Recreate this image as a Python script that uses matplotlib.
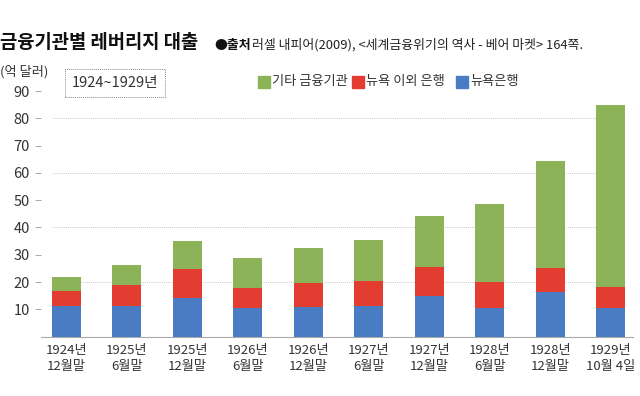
import matplotlib
matplotlib.use('Agg')
import matplotlib.pyplot as plt
import numpy as np

plt.rcParams['font.family'] = ['Noto Sans CJK KR', 'DejaVu Sans']

# data (unit: 억 달러)
periods = ['1924년\n12월말', '1925년\n6월말', '1925년\n12월말', '1926년\n6월말', '1926년\n12월말',
           '1927년\n6월말', '1927년\n12월말', '1928년\n6월말', '1928년\n12월말', '1929년\n10월 4일']
ny_banks    = [11.2, 11.2, 14.3, 10.4, 11.0, 11.2, 15.0, 10.6, 16.3, 10.5]
other_banks = [5.5, 7.7, 10.4, 7.5, 8.5, 9.2, 10.6, 9.5, 9.0, 7.7]
other_inst  = [5.3, 7.2, 10.2, 11.0, 13.0, 15.0, 18.6, 28.5, 38.9, 66.7]
y_ticks = [10, 20, 30, 40, 50, 60, 70, 80, 90]

GREEN = '#8cb357'
RED = '#e23d30'
BLUE = '#4a7cc3'

fig = plt.figure(figsize=(6.4, 3.96), dpi=100)
ax = fig.add_axes([0.064, 0.150, 0.925, 0.620])

x = np.arange(len(periods))
w = 0.48
ax.bar(x, ny_banks, w, color=BLUE, zorder=3)
ax.bar(x, other_banks, w, bottom=ny_banks, color=RED, zorder=3)
bottom2 = np.array(ny_banks) + np.array(other_banks)
ax.bar(x, other_inst, w, bottom=bottom2, color=GREEN, zorder=3)

ax.set_xlim(-0.42, 9.37)
ax.set_ylim(0, 90)
ax.set_yticks(y_ticks)
ax.tick_params(axis='y', length=4, width=0.7, color='#aaaaaa', pad=4,
               labelsize=10.5, labelcolor='#333333')
ax.set_xticks(x)
ax.set_xticklabels(periods, fontsize=9.5, color='#333333', linespacing=1.3)
ax.tick_params(axis='x', length=0, pad=5)

for v in [20, 40, 60, 80]:
    ax.axhline(v, xmin=0.02, xmax=0.96, color='#b5b5b5', lw=0.6, ls=(0, (1, 1.5)), zorder=1)

for s in ['left', 'right', 'top']:
    ax.spines[s].set_visible(False)
ax.spines['bottom'].set_color('#aaaaaa')
ax.spines['bottom'].set_linewidth(0.8)

# title and source
fig.text(0.0, 1 - 43 / 396, '금융기관별 레버리지 대출', fontsize=13.5, fontweight='bold',
         va='center', ha='left', color='#111111')
fig.text(214 / 640, 1 - 45 / 396, '●출처', fontsize=9.3, fontweight='bold',
         va='center', ha='left', color='#111111')
fig.text(252 / 640, 1 - 45 / 396, '러셀 내피어(2009), <세계금융위기의 역사 - 베어 마켓> 164쪽.',
         fontsize=9.3, va='center', ha='left', color='#222222')

fig.text(0.0, 1 - 72 / 396, '(억 달러)', fontsize=9.5, va='center', ha='left', color='#333333')

fig.text(115 / 640, 1 - 83 / 396, '1924~1929년', fontsize=10.5, va='center', ha='center',
         color='#333333',
         bbox=dict(boxstyle='square,pad=0.45', fc='white', ec='#888888', lw=0.7, ls=(0, (1, 1))))

# legend
leg_items = [('기타 금융기관', GREEN, 258), ('뉴욕 이외 은행', RED, 352), ('뉴욕은행', BLUE, 456)]
for label, col, px in leg_items:
    fig.patches.append(plt.Rectangle((px / 640, 1 - 88 / 396), 12 / 640, 12 / 396,
                                     transform=fig.transFigure, color=col))
    fig.text((px + 14) / 640, 1 - 82 / 396, label, fontsize=9.5, va='center', ha='left',
             color='#333333')

fig.savefig('out.png', dpi=100)
